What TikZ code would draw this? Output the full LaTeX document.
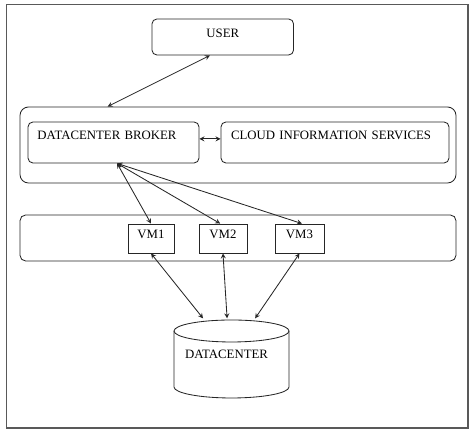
\documentclass[tikz,border=0pt]{standalone}
\usepackage{fontspec}
\setmainfont{Liberation Serif}

\begin{document}
\begin{tikzpicture}[>=stealth,
  font=\fontsize{9.1}{11}\selectfont,
  every node/.style={inner sep=0pt},
  outline/.style={draw=black!85,line width=0.6pt},
  zone/.style={outline,rounded corners=6pt,minimum width=10.9cm},
  box/.style={outline,rounded corners=3.5pt,minimum height=1.025cm,text depth=10.6pt},
  vmbox/.style={outline,minimum height=0.725cm,text depth=6pt},
  link/.style={<->,line width=0.6pt,black!85}]

\useasboundingbox (0,0) rectangle (11.85,10.75);
\draw [line width=1.1pt,black!65] (0.1625,0.05) rectangle (11.7,10.6375);

%%%%%%%%%%%%%%%%%%%%%%%%%%%%%%%%%%%%%%

\node [box,minimum width=3.54cm,minimum height=0.9cm,text depth=5.7pt] (user) at (5.569,9.825) {USER};

%%%%%%%%%%%%%%%%%%%%%%%%%%%%%%%%%%%%%%

\node [zone,minimum height=1.9cm] (brokerzone) at (5.95,7.125) {};
\node [box,minimum width=4.275cm,text width=3.8cm,align=left] (broker) at (2.8375,7.1875) {DATACENTER BROKER};
\node [box,minimum width=5.7cm,text width=5.2cm,align=left] (cis) at (8.375,7.1875) {CLOUD INFORMATION SERVICES};

%%%%%%%%%%%%%%%%%%%%%%%%%%%%%%%%%%%%%%

\node [zone,rounded corners=4pt,minimum height=1.15cm] (vmzone) at (5.95,4.8) {};
\node [vmbox,minimum width=1.15cm] (vm1) at (3.775,4.7875) {VM1};
\node [vmbox,minimum width=1.2cm] (vm2) at (5.575,4.7875) {VM2};
\node [vmbox,minimum width=1.225cm] (vm3) at (7.4875,4.7875) {VM3};

%%%%%%%%%%%%%%%%%%%%%%%%%%%%%%%%%%%%%%

\draw [outline] (5.7875,2.475) ellipse [x radius=1.4375,y radius=0.275];
\draw [outline] (4.35,2.475) -- (4.35,1.075) arc [start angle=180,end angle=360,x radius=1.4375,y radius=0.275] -- (7.225,2.475);
\coordinate (dctop) at (5.7875,2.75);
\node (datacenter) at (5.6625,1.9) {DATACENTER};

%%%%%%%%%%%%%%%%%%%%%%%%%%%%%%%%%%%%%%

\draw [link] ([xshift=-0.32cm]user.south) -- ([xshift=2.2cm]brokerzone.north west);
\draw [link] ([yshift=0.09cm]broker.east) -- ([yshift=0.09cm]cis.west);

\draw [link] ([xshift=0.09cm]broker.south) -- (vm1.north);
\draw [link] ([xshift=0.09cm]broker.south) -- ([xshift=-0.07cm]vm2.north);
\draw [link] ([xshift=0.09cm]broker.south) -- ([xshift=0.06cm]vm3.north);

\draw [link] (vm1.south) -- ([xshift=-0.71cm,yshift=0.04cm]dctop);
\draw [link] (vm2.south) -- ([xshift=-0.11cm,yshift=0.04cm]dctop);
\draw [link] (vm3.south) -- ([xshift=0.59cm,yshift=0.04cm]dctop);

\end{tikzpicture}
\end{document}
